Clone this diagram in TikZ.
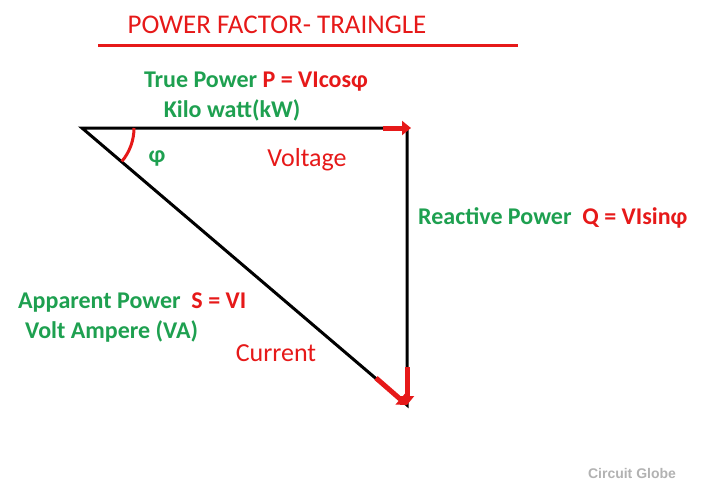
\documentclass[tikz,border=0pt]{standalone}
\usepackage{fontspec}
\setmainfont{Carlito}
\newfontfamily\wmfont{Liberation Sans}
\usetikzlibrary{arrows.meta,calc}
\definecolor{pfgreen}{RGB}{30,160,80}
\definecolor{pfred}{RGB}{230,25,25}
\begin{document}
\begin{tikzpicture}[x=1pt,y=-1pt,
    lbl/.style={font=\fontsize{24}{27}\selectfont\bfseries,text=pfgreen,inner sep=0pt},
    rlbl/.style={font=\fontsize{26}{29}\selectfont,text=pfred,inner sep=0pt},
    side/.style={line width=3pt,black},
    tip/.style={line width=5pt,pfred,-{Triangle[length=9pt,width=14pt]}}]
    \useasboundingbox (0,0) rectangle (704,495);
        \coordinate (a) at (82,128);
        \coordinate (b) at (407,128);
        \coordinate (c) at (407,405);
        % title
        \node[rlbl,font=\fontsize{27}{30}\selectfont] (title) at (277,25) {POWER FACTOR- TRAINGLE};
        \draw[pfred,line width=3pt] (98,46) -- (518,46);
        % triangle
        \draw[side] (a) -- (b) -- (c) -- cycle;
        \draw[tip,shorten >=-4pt] (383,128) -- (b);
        \draw[tip] (407,367) -- (c);
        \draw[tip] (376,378) -- (c);
        \draw[pfred,line width=3pt] ($(a)+(52,0)$) arc (0:40:52);
        % labels
        \node[lbl] (p) at (256,82) {True Power \textcolor{pfred}{P = VIcos\textbf{φ}}};
        \node[lbl] (kw) at (232,110) {Kilo watt(kW)};
        \node[lbl] (phi) at (157,158) {φ};
        \node[rlbl] (volt) at (307,160) {Voltage};
        \node[lbl,anchor=west] (q) at (418,218) {Reactive Power\ \ \textcolor{pfred}{Q = VIsinφ}};
        \node[lbl,anchor=west] (s) at (18,303) {Apparent Power\ \ \textcolor{pfred}{S = VI}};
        \node[lbl,anchor=west] (va) at (25,331) {Volt Ampere (VA)};
        \node[rlbl] (cur) at (276,353) {Current};
        \node[font=\wmfont\fontsize{14}{16}\selectfont\bfseries,text=black!30] (wm) at (632,473) {Circuit Globe};
    \end{tikzpicture}
\end{document}
